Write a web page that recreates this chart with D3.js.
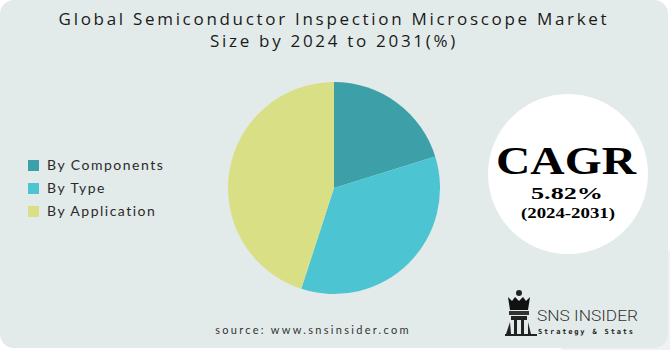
<!DOCTYPE html>
<html lang="en">
  <head>
    <meta charset="UTF-8" />
    <title>Semiconductor Inspection Microscope Market</title>
    <script src="https://cdn.jsdelivr.net/npm/d3@7"></script>
    <style>
      html, body { margin: 0; padding: 0; background: #ffffff; }
      #container { width: 670px; height: 350px; }
    </style>
  </head>
  <body>
    <div id="container"></div>
    <script>
      // chart data
      const categories = ['By Components', 'By Type', 'By Application']
      const shares = [20.2, 34.8, 45.0]
      const colors = ['#3d9fa8', '#4cc4d2', '#d9df84']
      const titleLines = ['Global Semiconductor Inspection Microscope Market', 'Size by 2024 to 2031(%)']
      const cagrValue = '5.82%'
      const cagrPeriod = '(2024-2031)'

      const width = 670
      const height = 350

      const svg = d3.select('#container').append('svg')
        .attr('width', width)
        .attr('height', height)
        .attr('viewBox', [0, 0, width, height])

      // faint shadow in the lower right corner
      svg.append('path')
        .attr('d', 'M560,350 L670,350 L670,250 Z')
        .attr('fill', '#eef2f2')

      // card background
      svg.append('rect')
        .attr('x', 0).attr('y', 0)
        .attr('width', width - 2).attr('height', height - 2)
        .attr('rx', 14)
        .attr('fill', '#e3ebea')

      // title
      svg.append('g')
        .selectAll('text')
        .data(titleLines)
        .join('text')
        .attr('x', 334)
        .attr('y', (d, i) => 25 + i * 22)
        .attr('text-anchor', 'middle')
        .attr('font-family', 'Open Sans, sans-serif')
        .attr('font-size', 17)
        .attr('font-weight', 500)
        .attr('letter-spacing', 2.7)
        .attr('fill', '#1a1a1a')
        .text(d => d)

      // pie
      const pie = d3.pie().sort(null).value(d => d)
      const arc = d3.arc().innerRadius(0).outerRadius(106)

      svg.append('g')
        .attr('transform', 'translate(334,188)')
        .selectAll('path')
        .data(pie(shares))
        .join('path')
        .attr('d', arc)
        .attr('fill', (d, i) => colors[i])

      // legend
      const legend = svg.append('g')
        .selectAll('g')
        .data(categories)
        .join('g')
        .attr('transform', (d, i) => `translate(28,${160 + i * 23})`)

      legend.append('rect')
        .attr('width', 11).attr('height', 11)
        .attr('fill', (d, i) => colors[i])

      legend.append('text')
        .attr('x', 19)
        .attr('y', 10)
        .attr('font-family', 'Lato, sans-serif')
        .attr('font-size', 14)
        .attr('letter-spacing', 1.5)
        .attr('fill', '#2a2a2a')
        .text(d => d)

      // CAGR badge
      const badge = svg.append('g')
      badge.append('circle')
        .attr('cx', 568).attr('cy', 174).attr('r', 80)
        .attr('fill', '#ffffff')
      badge.append('text')
        .attr('x', 566).attr('y', 174)
        .attr('text-anchor', 'middle')
        .attr('font-family', 'Liberation Serif, serif')
        .attr('font-weight', 'bold')
        .attr('font-size', 40)
        .attr('textLength', 140)
        .attr('lengthAdjust', 'spacingAndGlyphs')
        .attr('fill', '#000')
        .text('CAGR')
      badge.append('text')
        .attr('x', 567).attr('y', 199)
        .attr('text-anchor', 'middle')
        .attr('font-family', 'Liberation Serif, serif')
        .attr('font-weight', 'bold')
        .attr('font-size', 17)
        .attr('textLength', 72)
        .attr('lengthAdjust', 'spacingAndGlyphs')
        .attr('fill', '#000')
        .text(cagrValue)
      badge.append('text')
        .attr('x', 568).attr('y', 218)
        .attr('text-anchor', 'middle')
        .attr('font-family', 'Liberation Serif, serif')
        .attr('font-weight', 'bold')
        .attr('font-size', 14)
        .attr('textLength', 94)
        .attr('lengthAdjust', 'spacingAndGlyphs')
        .attr('fill', '#000')
        .text(cagrPeriod)

      // source
      svg.append('text')
        .attr('x', 313).attr('y', 334)
        .attr('text-anchor', 'middle')
        .attr('font-family', 'Lato, sans-serif')
        .attr('font-size', 11)
        .attr('letter-spacing', 2.3)
        .attr('fill', '#333')
        .text('source: www.snsinsider.com')

      // logo
      const logo = svg.append('g')
      logo.append('circle').attr('cx', 519).attr('cy', 293).attr('r', 3).attr('fill', '#222')
      logo.append('path')
        .attr('d', 'M508,297 L512,301 L515,297 L519,301 L523,297 L526,301 L530,297 L528,310 L510,310 Z')
        .attr('fill', '#111')
      logo.append('rect').attr('x', 509).attr('y', 311).attr('width', 20).attr('height', 4).attr('fill', '#333')
      logo.append('path')
        .attr('d', 'M511,316 L527,316 L527,320 L524,320 L524,334 L521,334 L521,320 L517,320 L517,334 L514,334 L514,320 L511,320 Z')
        .attr('fill', '#222')
      logo.append('path')
        .attr('d', 'M506,334 L510,322 L511,334 Z M528,334 L528,322 L531,334 Z')
        .attr('fill', '#222')
      logo.append('rect').attr('x', 505).attr('y', 334).attr('width', 32).attr('height', 2).attr('fill', '#222')
      logo.append('text')
        .attr('x', 537).attr('y', 321)
        .attr('font-family', 'Roboto, sans-serif')
        .attr('font-weight', 300)
        .attr('font-size', 15)
        .attr('textLength', 101)
        .attr('lengthAdjust', 'spacingAndGlyphs')
        .attr('fill', '#333')
        .text('SNS INSIDER')
      logo.append('text')
        .attr('x', 538).attr('y', 334)
        .attr('font-family', 'DejaVu Sans Mono, monospace')
        .attr('font-weight', 'bold')
        .attr('font-size', 7)
        .attr('textLength', 95)
        .attr('lengthAdjust', 'spacing')
        .attr('fill', '#222')
        .text('Strategy & Stats')
    </script>
  </body>
</html>
